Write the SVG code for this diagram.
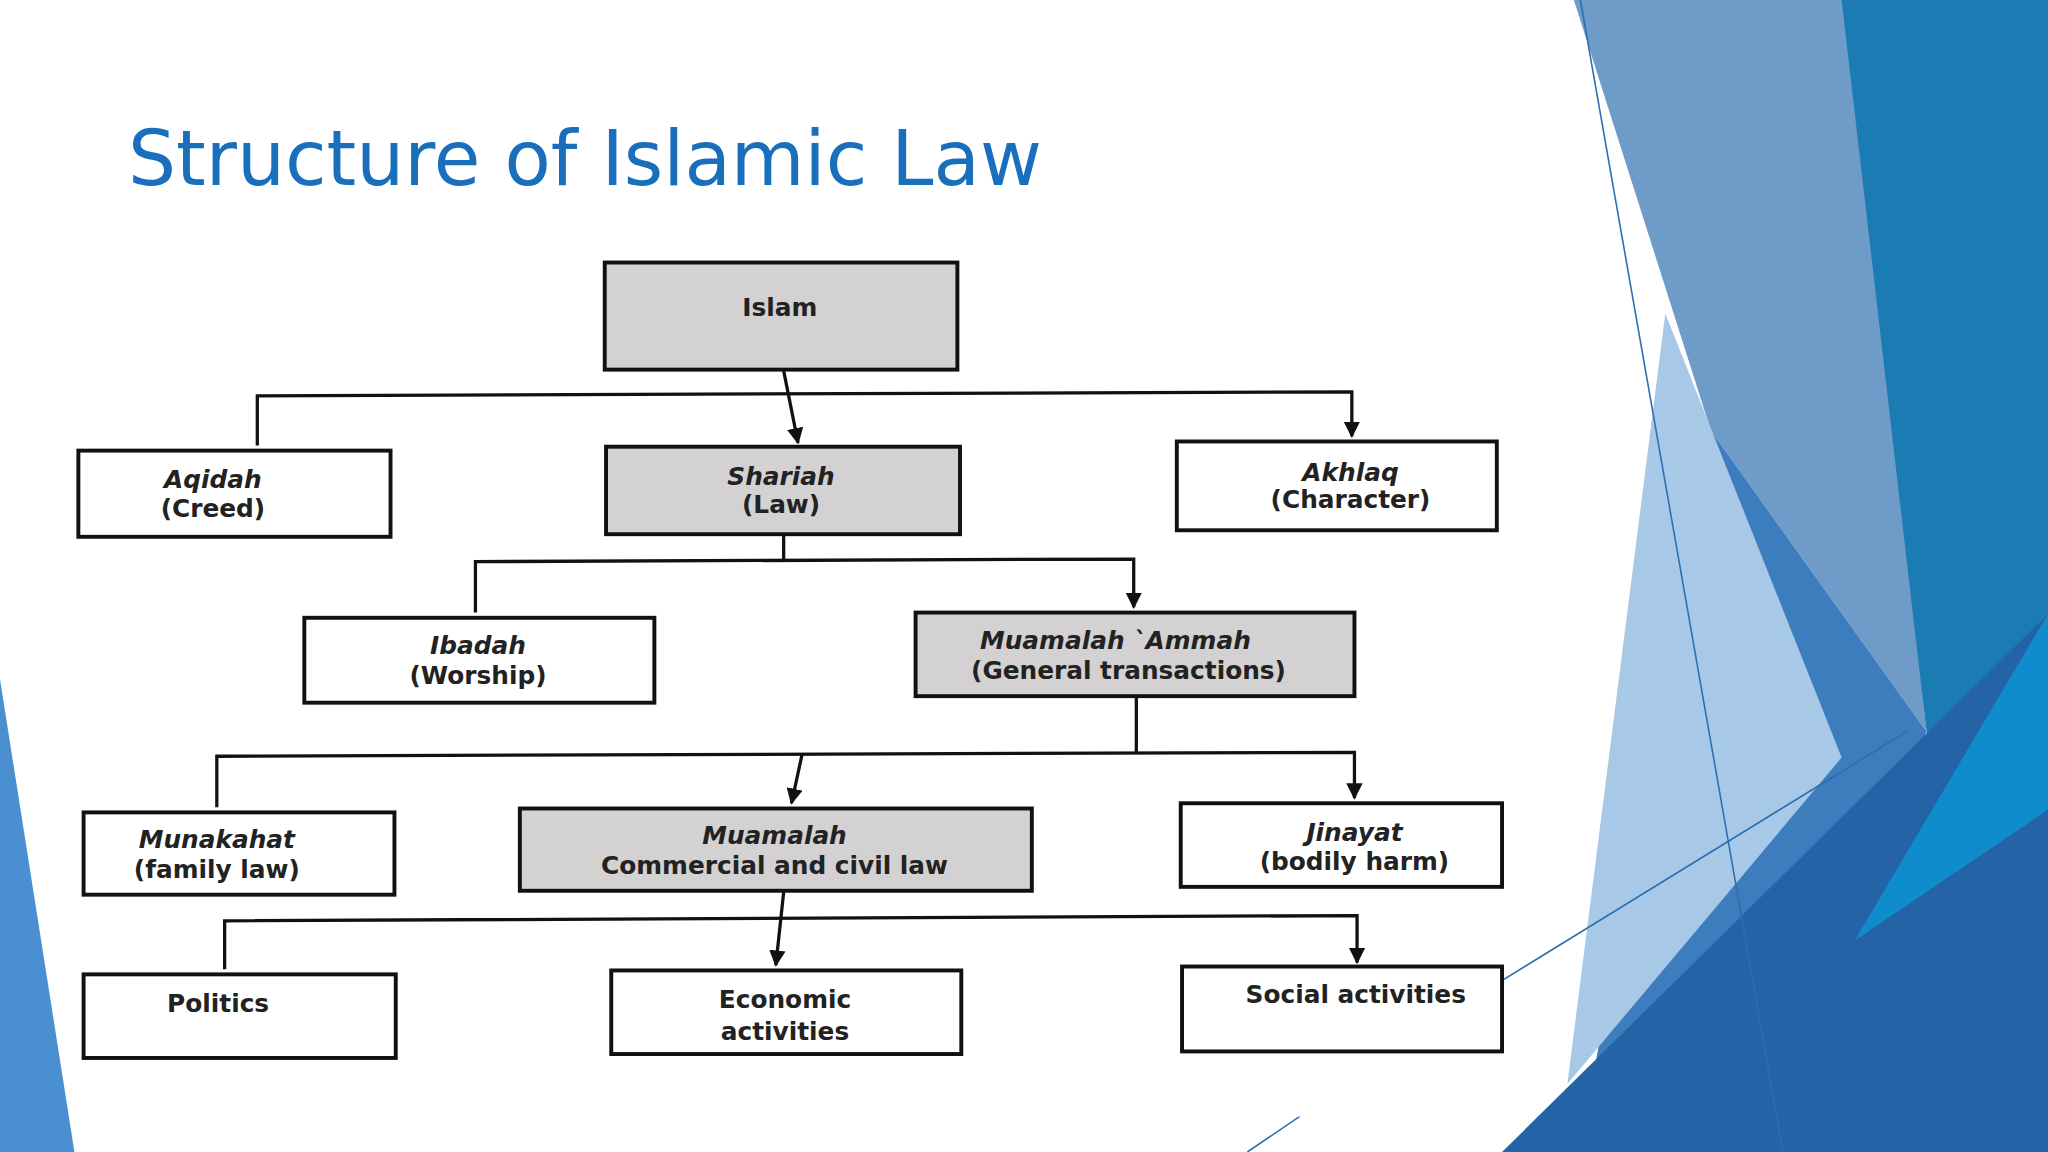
<svg xmlns="http://www.w3.org/2000/svg" width="2048" height="1152" viewBox="0 0 2048 1152">
<defs>
<style>
.b{fill:#fff;stroke:#111;stroke-width:3}
.g{fill:#d3d1d1;stroke:#111;stroke-width:3}
.t{font-family:"DejaVu Sans",sans-serif;font-size:19px;fill:#222;text-anchor:middle;font-weight:bold}
.i{font-style:italic}
.c{fill:none;stroke:#111;stroke-width:2.5}
</style>
<marker id="a" viewBox="0 0 10 10" refX="9" refY="5" markerWidth="5" markerHeight="5" orient="auto"><path d="M0,0L10,5L0,10z" fill="#111"/></marker>
</defs>
<rect width="2048" height="1152" fill="#fff"/>
<g transform="scale(1.306122)">
<g id="background">
<polygon points="1205,0 1415,0 1475,560 1310,330" fill="#6f9bc9"/>
<polygon points="1410,0 1568,0 1568,882 1470,882 1475,560" fill="#1b7bb3"/>
<polygon points="1310,330 1475,560 1420,720 1215,850" fill="#3d7dbd"/>
<polygon points="1275,240 1410,580 1200,830" fill="#a8c8e8"/>
<polygon points="1150,882 1568,470 1568,882" fill="#2563a7"/>
<polygon points="1420,720 1568,470 1568,620" fill="#0f8ccc"/>
<polygon points="0,520 57,882 0,882" fill="#4a8fd0"/>
<line x1="1210" y1="0" x2="1365" y2="882" stroke="#2a6fb0" stroke-width="1.2"/>
<line x1="1143" y1="755" x2="1460" y2="560" stroke="#2a6fb0" stroke-width="1.2"/>
<line x1="955" y1="882" x2="1005" y2="848" stroke="#2a6fb0" stroke-width="1.2"/>
<rect x="68" y="140" width="1075" height="715" fill="#fff"/>
</g>
<text x="98" y="142" font-family="'DejaVu Sans',sans-serif" font-size="58" fill="#1a6fbd">Structure of Islamic Law</text>
<g id="connectors">
<polyline class="c" points="197,341 197,303 1035,300 1035,334" marker-end="url(#a)"/>
<line class="c" x1="600" y1="284" x2="611" y2="339" marker-end="url(#a)"/>
<polyline class="c" points="364,469 364,430 868,428 868,465" marker-end="url(#a)"/>
<line class="c" x1="600" y1="410" x2="600" y2="430"/>
<polyline class="c" points="166,618 166,579 1037,576 1037,611" marker-end="url(#a)"/>
<line class="c" x1="870" y1="534" x2="870" y2="577"/>
<line class="c" x1="614" y1="578" x2="606" y2="615" marker-end="url(#a)"/>
<polyline class="c" points="172,742 172,705 1039,701 1039,737" marker-end="url(#a)"/>
<line class="c" x1="600" y1="683" x2="594" y2="739" marker-end="url(#a)"/>
</g>
<g id="islam"><rect class="g" x="463" y="201" width="270" height="82"/><text class="t" x="597" y="242" font-size="23">Islam</text></g>
<g id="aqidah"><rect class="b" x="60" y="345" width="239" height="66"/><text class="t i" x="163" y="374">Aqidah</text><text class="t" x="163" y="396">(Creed)</text></g>
<g id="shariah"><rect class="g" x="464" y="342" width="271" height="67"/><text class="t i" x="598" y="371">Shariah</text><text class="t" x="598" y="393">(Law)</text></g>
<g id="akhlaq"><rect class="b" x="901" y="338" width="245" height="68"/><text class="t i" x="1034" y="368">Akhlaq</text><text class="t" x="1034" y="389">(Character)</text></g>
<g id="ibadah"><rect class="b" x="233" y="473" width="268" height="65"/><text class="t i" x="366" y="501">Ibadah</text><text class="t" x="366" y="524">(Worship)</text></g>
<g id="muamalah-ammah"><rect class="g" x="701" y="469" width="336" height="64"/><text class="t i" x="854" y="497">Muamalah  `Ammah</text><text class="t" x="864" y="520">(General transactions)</text></g>
<g id="munakahat"><rect class="b" x="64" y="622" width="238" height="63"/><text class="t i" x="166" y="649">Munakahat</text><text class="t" x="166" y="672">(family law)</text></g>
<g id="muamalah"><rect class="g" x="398" y="619" width="392" height="63"/><text class="t i" x="593" y="646">Muamalah</text><text class="t" x="593" y="669">Commercial and civil law</text></g>
<g id="jinayat"><rect class="b" x="904" y="615" width="246" height="64"/><text class="t i" x="1037" y="644">Jinayat</text><text class="t" x="1037" y="666">(bodily harm)</text></g>
<g id="politics"><rect class="b" x="64" y="746" width="239" height="64"/><text class="t" x="167" y="775">Politics</text></g>
<g id="economic"><rect class="b" x="468" y="743" width="268" height="64"/><text class="t" x="601" y="772">Economic</text><text class="t" x="601" y="796">activities</text></g>
<g id="social"><rect class="b" x="905" y="740" width="245" height="65"/><text class="t" x="1038" y="768">Social activities</text></g>
</g>
</svg>
